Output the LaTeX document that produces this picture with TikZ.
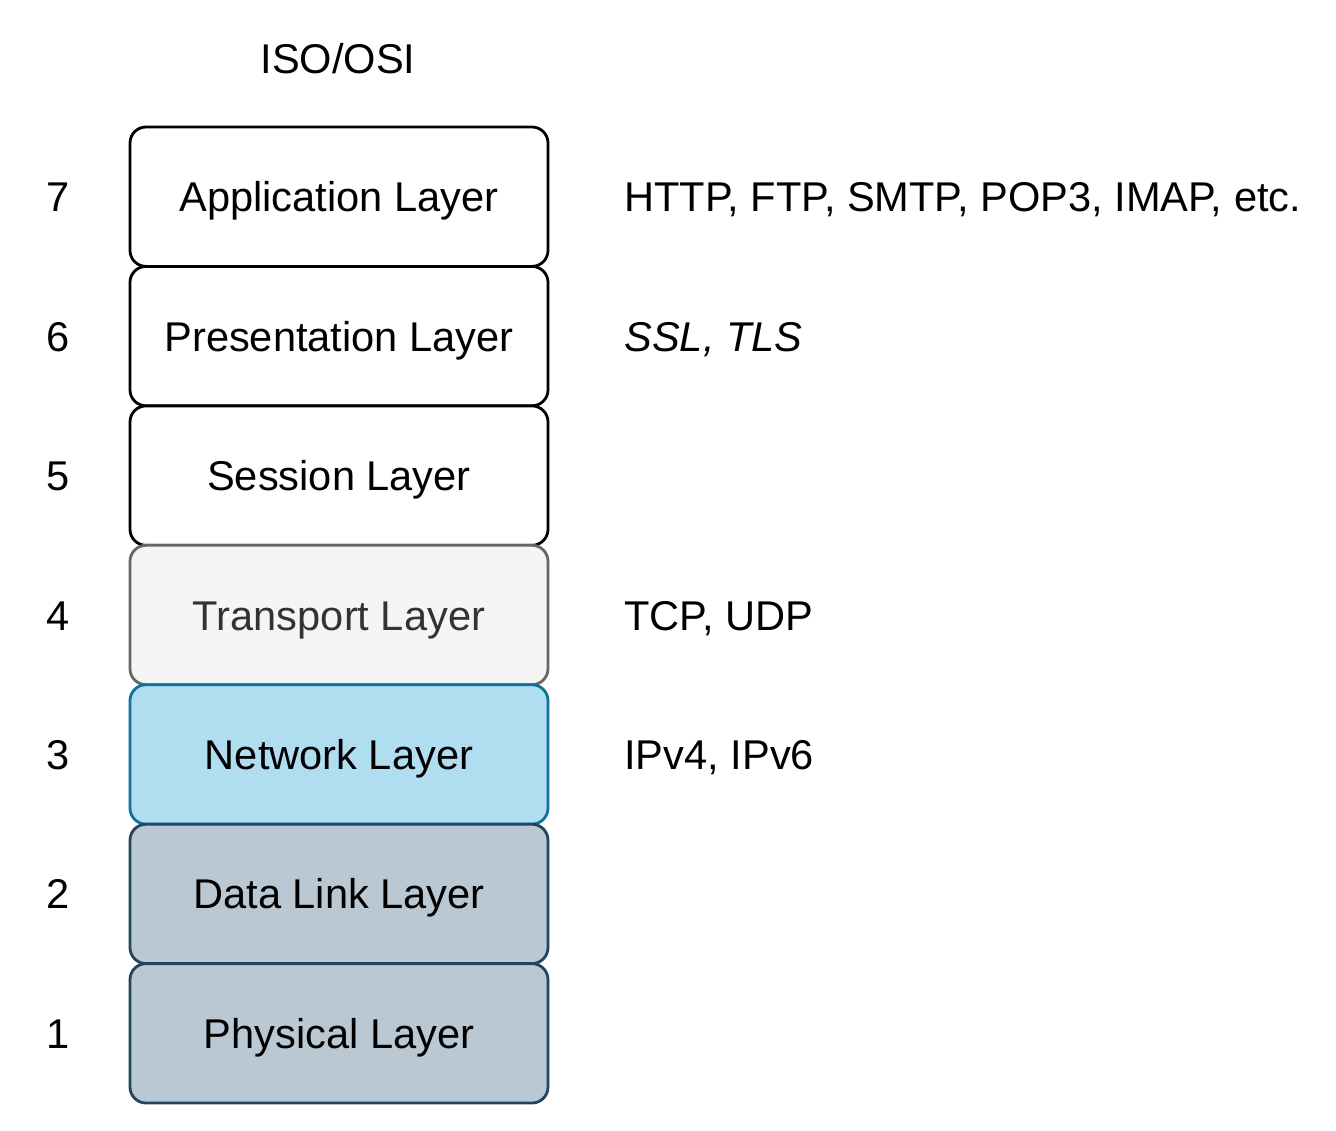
\documentclass[tikz,border=0pt]{standalone}
\usepackage{fontspec}
\setmainfont{Liberation Sans}
\definecolor{trfill}{HTML}{F5F5F5}
\definecolor{trline}{HTML}{666666}
\definecolor{trtext}{HTML}{333333}
\definecolor{nwfill}{HTML}{B1DDF0}
\definecolor{nwline}{HTML}{10739E}
\definecolor{lofill}{HTML}{BAC8D3}
\definecolor{loline}{HTML}{23445D}
\begin{document}
\begin{tikzpicture}[x=0.5pt,y=-0.5pt,
  txtbase/.style={font=\fontsize{20.8}{24}\selectfont, text height=15pt, text depth=0pt},
  layer/.style={txtbase, draw, line width=1.4pt, rounded corners=8pt, minimum width=209pt, minimum height=69.7pt, inner sep=0pt},
  txt/.style={txtbase, inner sep=0pt},
  num/.style={txtbase, inner sep=0pt},
  proto/.style={txtbase, inner sep=0pt, anchor=west}]
\useasboundingbox (0,0) rectangle (1336,1130);
\fill[white] (0,0) rectangle (1336,1130);
\node[txt] (title) at (338,58) {ISO/OSI};
\node[layer, fill=white] (l7) at (339,196.7) {Application Layer};
\node[layer, fill=white] (l6) at (339,336.1) {Presentation Layer};
\node[layer, fill=white] (l5) at (339,475.6) {Session Layer};
\node[layer, fill=trfill, draw=trline, text=trtext] (l4) at (339,615) {Transport Layer};
\node[layer, fill=nwfill, draw=nwline] (l3) at (339,754.4) {Network Layer};
\node[layer, fill=lofill, draw=loline] (l2) at (339,893.9) {Data Link Layer};
\node[layer, fill=lofill, draw=loline] (l1) at (339,1033.3) {Physical Layer};
\node[num] (n7) at (58,196.7) {7};
\node[num] (n6) at (58,336.1) {6};
\node[num] (n5) at (58,475.6) {5};
\node[num] (n4) at (58,615) {4};
\node[num] (n3) at (58,754.4) {3};
\node[num] (n2) at (58,893.9) {2};
\node[num] (n1) at (58,1033.3) {1};
\node[proto] (p7) at (624,196.7) {HTTP, FTP, SMTP, POP3, IMAP, etc.};
\node[proto] (p6) at (624,336.1) {\itshape SSL, TLS};
\node[proto] (p4) at (624,615) {TCP, UDP};
\node[proto] (p3) at (624,754.4) {IPv4, IPv6};
\end{tikzpicture}
\end{document}
